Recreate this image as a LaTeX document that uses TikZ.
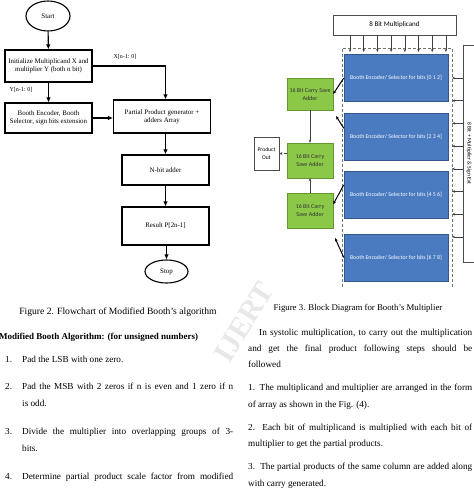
\documentclass[tikz,border=0pt]{standalone}
\usepackage{fontspec}
\setmainfont{Liberation Serif}
\newfontfamily\blockfont{Carlito}
\usetikzlibrary{positioning}
\usetikzlibrary{arrows.meta}
\usetikzlibrary{shapes.geometric}

\definecolor{bfill}{RGB}{74,122,192}
\definecolor{bedge}{RGB}{52,88,140}
\definecolor{gfill}{RGB}{140,200,72}
\definecolor{gedge}{RGB}{100,150,50}

\tikzset{
  flowbox/.style={draw, line width=1.1pt, align=center, inner sep=1pt, font=\fontsize{6.9}{8.2}\selectfont},
  flowend/.style={draw, ellipse, line width=1.1pt, inner sep=0pt, font=\fontsize{6.9}{8.2}\selectfont},
  flowarrow/.style={-{Latex[length=5pt,width=4.5pt]}, line width=1.1pt},
  blueblock/.style={draw=bedge, fill=bfill, minimum width=104pt, minimum height=47pt, text=white, font=\blockfont\fontsize{5.8}{6.6}\selectfont},
  greenblock/.style={draw=gedge, fill=gfill, minimum width=46pt, minimum height=34pt, align=center, inner sep=1pt, text=black!80, font=\blockfont\fontsize{6}{8}\selectfont},
  whiteblock/.style={draw=black!70, fill=white, align=center, inner sep=1pt, font=\blockfont\fontsize{5.6}{7.2}\selectfont},
  thinarrow/.style={-{Stealth[length=3pt,width=2.5pt]}, line width=0.5pt, black!75},
  diagarrow/.style={-{Stealth[length=3.5pt,width=3pt]}, line width=1pt},
  bodytext/.style={anchor=base west, inner sep=0pt, font=\fontsize{9.2}{10}\selectfont},
}

\begin{document}
\begin{tikzpicture}[x=1pt,y=-1pt]
  \useasboundingbox (0,0) rectangle (474,488);
  \clip (0,0) rectangle (474,488);

  % watermark
  \node[rotate=58, text=black!9, font=\bfseries\fontsize{30}{30}\selectfont] (mark) at (244,322) {IJERT};

  % Flowchart of the algorithm
  \node[flowend, minimum width=44pt, minimum height=30pt] (start) at (48,16) {Start};
  \node[flowbox, minimum width=87pt, minimum height=32pt] (init) at (48.5,66) {Initialize Multiplicand X and\\ multiplier Y (both n bit)};
  \node[flowbox, minimum width=87pt, minimum height=30pt] (booth) at (48.5,118) {Booth Encoder, Booth\\ Selector, sign bits extension};
  \node[flowbox, minimum width=97pt, minimum height=33pt] (ppgen) at (162,116.5) {Partial Product generator +\\ adders Array};
  \node[flowbox, minimum width=87pt, minimum height=30pt] (nadd) at (165.5,170) {N-bit adder};
  \node[flowbox, minimum width=87pt, minimum height=38pt] (result) at (165.5,226) {Result P[2n-1]};
  \node[flowend, minimum width=43pt, minimum height=23pt] (stop) at (166.5,271.5) {Stop};

  \draw[flowarrow] (start) -- (init);
  \draw[flowarrow] (init) -- (booth);
  \draw[flowarrow] (booth.east) -- (booth.east -| ppgen.west);
  \draw[flowarrow] (init.east) -| (nadd.north |- ppgen.north);
  \draw[flowarrow] (ppgen.south -| nadd.north) -- (nadd.north);
  \draw[flowarrow] (nadd) -- (result);
  \draw[flowarrow] (result.south -| stop.north) -- (stop.north);

  \node[font=\fontsize{6}{7}\selectfont] (xlab) at (125,57) {X[n-1: 0]};
  \node[font=\fontsize{6}{7}\selectfont] (ylab) at (21,90) {Y[n-1: 0]};

  % Block diagram of the multiplier
  \node[whiteblock, minimum width=123pt, minimum height=20pt, font=\blockfont\fontsize{7}{8}\selectfont] (mcand) at (394.5,25) {8 Bit Multiplicand};
  \draw[black!55, densely dashed, line width=0.5pt] (342,287) -- (342,48) -- (452,48) -- (452,287);

  \node[blueblock] (b1) at (396,78) {Booth Encoder/ Selector for bits [0 1 2]};
  \node[blueblock] (b2) at (396,136.5) {Booth Encoder/ Selector for bits [2 3 4]};
  \node[blueblock] (b3) at (396,195) {Booth Encoder/ Selector for bits [4 5 6]};
  \node[blueblock] (b4) at (396,257.5) {Booth Encoder/ Selector for bits [6 7 8]};

  \node[whiteblock, rotate=-90, minimum width=217pt, minimum height=12pt] (mplier) at (469,153.5) {8 Bit + Multiplier \& Sign Ext};

  % multiplicand bits down, multiplier bits left
  \foreach \i in {1,...,8} {
    \coordinate (mt\i) at ({336.3+13.7*\i},35);
    \coordinate (mb\i) at ({336.3+13.7*\i},52);
    \draw[thinarrow] (mt\i) -- (mb\i);
    \coordinate (ml\i) at (452,{55.3+22.7*\i});
    \draw[thinarrow] (mplier.south |- ml\i) -- (ml\i);
  }

  \node[greenblock, minimum height=32pt] (g1) at (310,94) {16 Bit Carry Save\\ Adder};
  \node[greenblock, minimum height=35pt] (g2) at (310,160.5) {16 Bit Carry\\ Save Adder};
  \node[greenblock, minimum height=35pt] (g3) at (310,210.5) {16 Bit Carry\\ Save Adder};
  \node[whiteblock, minimum width=25pt, minimum height=33pt] (pout) at (266.5,153.5) {Product\\ Out};

  \draw[thinarrow] (g1) -- (g2);
  \draw[thinarrow] (g3) -- (g2);
  \draw[thinarrow, densely dashed] (g2.west |- pout.east) -- (pout.east);

  \coordinate (h2) at (336,116);
  \coordinate (h4) at (335,238);
  \draw[diagarrow] (b1.west) -- (g1.east);
  \draw[diagarrow] (b2.171) -- (h2);
  \draw[diagarrow] (b3.169) -- (g3.15);
  \draw[diagarrow] (b4.west) -- (h4);

  % captions
  \node[font=\fontsize{9.6}{10}\selectfont] (cap2) at (118,312) {Figure 2. Flowchart of Modified Booth's algorithm};
  \node[font=\fontsize{8.8}{10}\selectfont] (cap3) at (358,308) {Figure 3. Block Diagram for Booth's Multiplier};

  % left column (baselines)
  \node[bodytext, font=\bfseries\fontsize{9}{10}\selectfont] (head) at (-1,339) {Modified Booth Algorithm: (for unsigned numbers)};
  \foreach \n/\y in {1/362, 2/389, 3/434, 4/479}
    \node[bodytext] (num\n) at (5,\y) {\n.};
  \node[bodytext] (l1) at (22,362) {Pad the LSB with one zero.};
  \node[bodytext] (l2) at (22,389) {\makebox[211pt][s]{Pad the MSB with 2 zeros if n is even and 1 zero if n}};
  \node[bodytext] (l3) at (22,406) {is odd.};
  \node[bodytext] (l4) at (22,434) {\makebox[211pt][s]{Divide the multiplier into overlapping groups of 3-}};
  \node[bodytext] (l5) at (22,451) {bits.};
  \node[bodytext] (l6) at (22,479) {\makebox[211pt][s]{Determine partial product scale factor from modified}};
  \node[bodytext] (l7) at (22,496) {booth 2 encoding table.};

  % right column (baselines)
  \node[bodytext] (r1) at (259,335) {\makebox[213pt][s]{In systolic multiplication, to carry out the multiplication}};
  \node[bodytext] (r2) at (248,351.5) {\makebox[224pt][s]{and get the final product following steps should be}};
  \node[bodytext] (r3) at (248,367.5) {followed};
  \node[bodytext] (r4) at (248,390) {\makebox[224pt][s]{1. The multiplicand and multiplier are arranged in the form}};
  \node[bodytext] (r5) at (248,407) {of array as shown in the Fig. (4).};
  \node[bodytext] (r6) at (248,430.5) {\makebox[224pt][s]{2.\ \ Each bit of multiplicand is multiplied with each bit of}};
  \node[bodytext] (r7) at (248,446.5) {multiplier to get the partial products.};
  \node[bodytext] (r8) at (248,469.5) {\makebox[224pt][s]{3.\ \ The partial products of the same column are added along}};
  \node[bodytext] (r9) at (248,486.5) {with carry generated.};
\end{tikzpicture}
\end{document}
